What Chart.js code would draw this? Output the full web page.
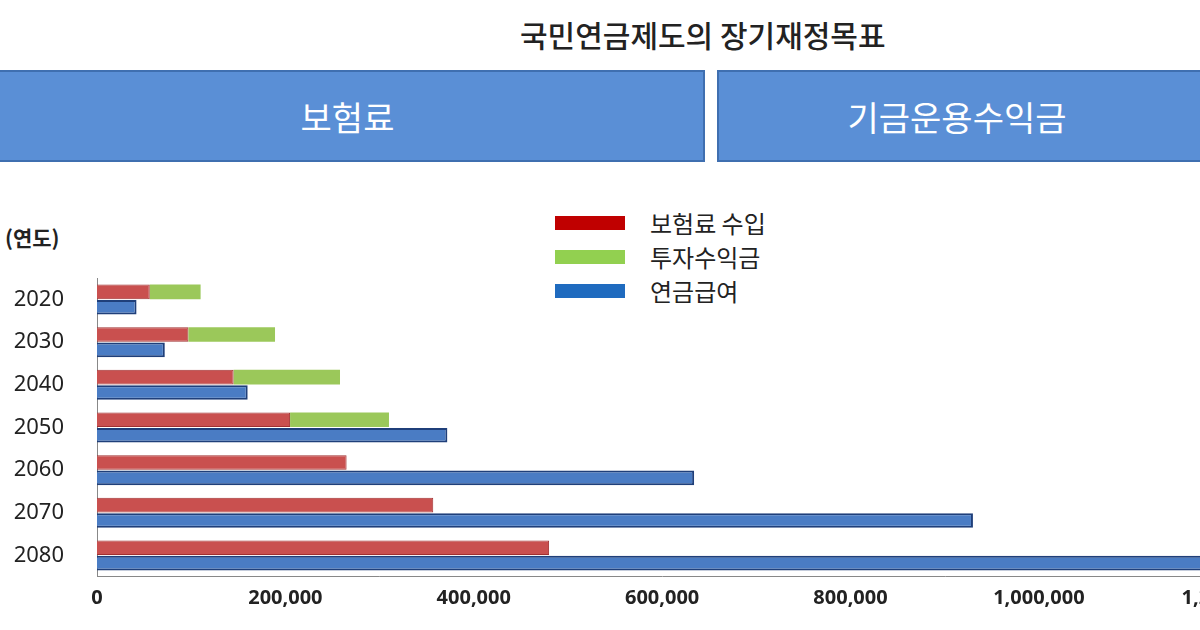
<!DOCTYPE html>
<html><head><meta charset="utf-8">
<script src="https://cdn.jsdelivr.net/npm/chart.js@4"></script>
<style>
body{margin:0;width:1200px;height:630px;overflow:hidden;background:#fff;font-family:"Noto Sans CJK KR","Noto Sans",sans-serif;position:relative}
.t{position:absolute;color:#222}
.box{position:absolute;top:70px;height:92px;background:#5a8fd6;border:2px solid #3f6fb0;color:#fff;font-size:34px;display:flex;align-items:center;justify-content:center;box-sizing:border-box}
.lg{position:absolute;left:555px;font-size:24px;color:#222;display:flex;align-items:center}
.lg span{display:inline-block;width:70px;height:14px;margin-right:25px}
#wrap{position:absolute;left:0;top:240px;width:1276px;height:375px}
</style></head><body>
<div class="t" style="left:520px;top:12px;font-size:30px;font-weight:500">국민연금제도의 장기재정목표</div>
<div class="box" style="left:-10px;width:715px">보험료</div>
<div class="box" style="left:717px;width:500px;padding-right:20px">기금운용수익금</div>
<div class="t" style="left:5px;top:222px;font-size:21px;font-weight:bold">(연도)</div>
<div class="lg" style="top:205px"><span style="background:#c00000"></span>보험료 수입</div>
<div class="lg" style="top:239px"><span style="background:#92d050"></span>투자수익금</div>
<div class="lg" style="top:273px"><span style="background:#1f6bbf"></span>연금급여</div>
<div id="wrap"><canvas id="c"></canvas></div>
<script>
const years=['2020','2030','2040','2050','2060','2070','2080'];
const premium=[56000,97000,145000,205000,265000,357000,480000];
const investment=[54000,92000,113000,105000,0,0,0];
const benefits=[42000,72000,160000,372000,634000,930000,1250000];
new Chart(document.getElementById('c'),{
type:'bar',
data:{labels:years,datasets:[
{label:'보험료 수입',data:premium,backgroundColor:'#c9504f',borderColor:'#a03030',borderWidth:1,stack:'a'},
{label:'투자수익금',data:investment,backgroundColor:'#9bc85a',borderWidth:0,stack:'a'},
{label:'연금급여',data:benefits,backgroundColor:'#4a7cc4',borderColor:'#1f3f7a',borderWidth:2,stack:'b'}]},
options:{indexAxis:'y',responsive:true,maintainAspectRatio:false,animation:false,
layout:{padding:{top:8,right:0,bottom:0}},
plugins:{legend:{display:false},tooltip:{enabled:false}},
datasets:{bar:{categoryPercentage:0.72,barPercentage:0.95}},
scales:{
x:{stacked:true,min:0,max:1200000,grid:{display:false,drawTicks:true,tickLength:6},border:{color:'#888'},
ticks:{stepSize:200000,color:'#222',font:{size:20,weight:'bold',family:'Noto Sans'},callback:v=>v.toLocaleString('en-US')}},
y:{stacked:true,grid:{display:false},border:{color:'#888'},
afterFit:s=>{s.width=97},
ticks:{color:'#222',font:{size:22,family:'Noto Sans'},padding:25}}
}}});
</script>
</body></html>
